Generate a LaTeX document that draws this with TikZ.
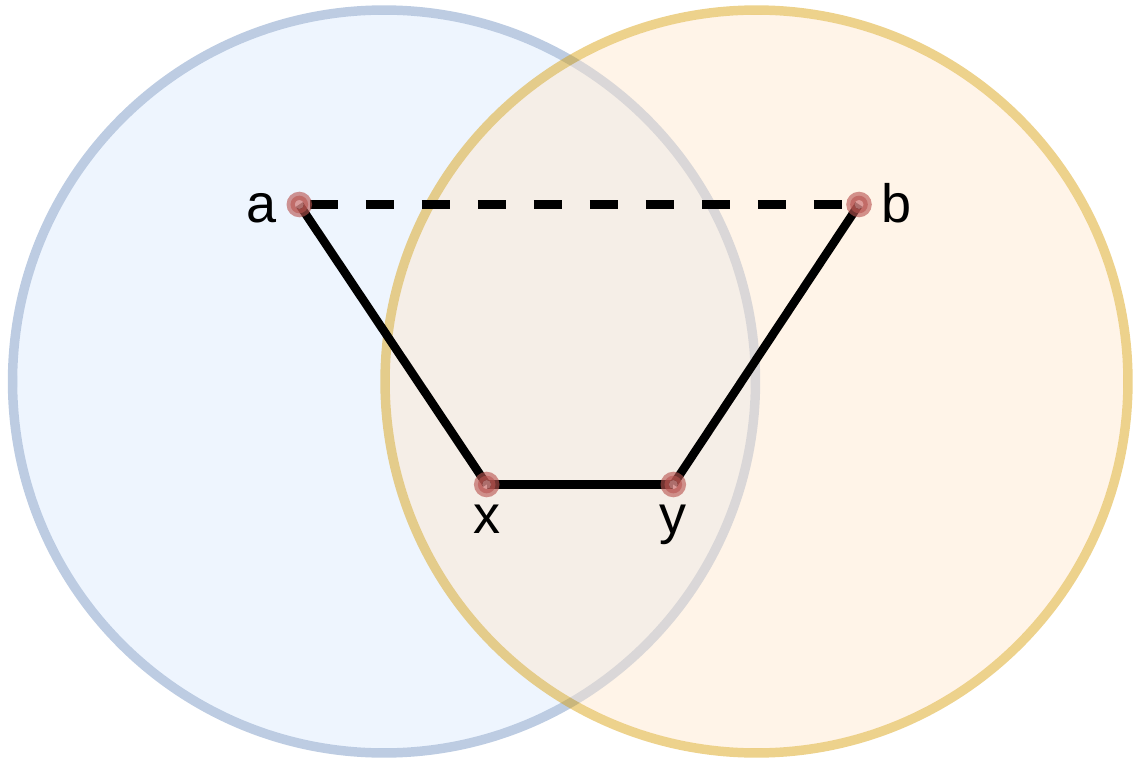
\documentclass[tikz,border=0pt]{standalone}
\usepackage{fontspec}
\setmainfont{Liberation Sans}
\definecolor{lfill}{HTML}{DAE8FC}
\definecolor{lstroke}{HTML}{6C8EBF}
\definecolor{rfill}{HTML}{FFE6CC}
\definecolor{rstroke}{HTML}{D79B00}
\definecolor{ptred}{HTML}{B85450}
\definecolor{ptlight}{HTML}{E8A8A8}
\tikzset{
  setfill/.style={fill opacity=0.45, draw=none},
  setring/.style={draw opacity=0.45, line width=7.1pt},
  edge/.style={line width=6.4pt, draw=black},
  dashedge/.style={edge, dash pattern=on 21pt off 21pt, dash phase=34pt},
  lbl/.style={inner sep=0pt, anchor=base, font=\fontsize{40.5}{48}\selectfont},
}
\begin{document}
\begin{tikzpicture}[x=0.75pt,y=-0.75pt]
\useasboundingbox (0,0) rectangle (1140,767);
% sets
\coordinate (cl) at (384,381.5);
\coordinate (cr) at (756.5,381.5);
\fill[lfill, setfill] (cl) circle[radius=275.1pt];
\draw[lstroke, setring] (cl) circle[radius=278.6pt];
\fill[rfill, setfill] (cr) circle[radius=275.1pt];
\draw[rstroke, setring] (cr) circle[radius=278.6pt];
% points
\coordinate (a) at (299.3,204.5);
\coordinate (b) at (859,204.5);
\coordinate (x) at (486.7,484.5);
\coordinate (y) at (673.3,484.5);
% edges
\draw[edge] (a) -- (x);
\draw[edge] (x) -- (y);
\draw[edge] (y) -- (b);
\draw[dashedge] (a) -- (b);
% markers
\foreach \p in {a,b,x,y}{
  \fill[ptred, fill opacity=0.62] (\p) circle[radius=9.6pt];
  \draw[ptred, draw opacity=0.6, line width=3.2pt] (\p) circle[radius=5pt];
  \fill[ptlight, fill opacity=0.5] (\p) circle[radius=3.3pt];
}
% labels
\node[lbl] (la) at (262,222) {a};
\node[lbl] (lb) at (896.7,222) {b};
\node[lbl] (lx) at (486.7,533) {x};
\node[lbl] (ly) at (673.3,533) {y};
\end{tikzpicture}
\end{document}
